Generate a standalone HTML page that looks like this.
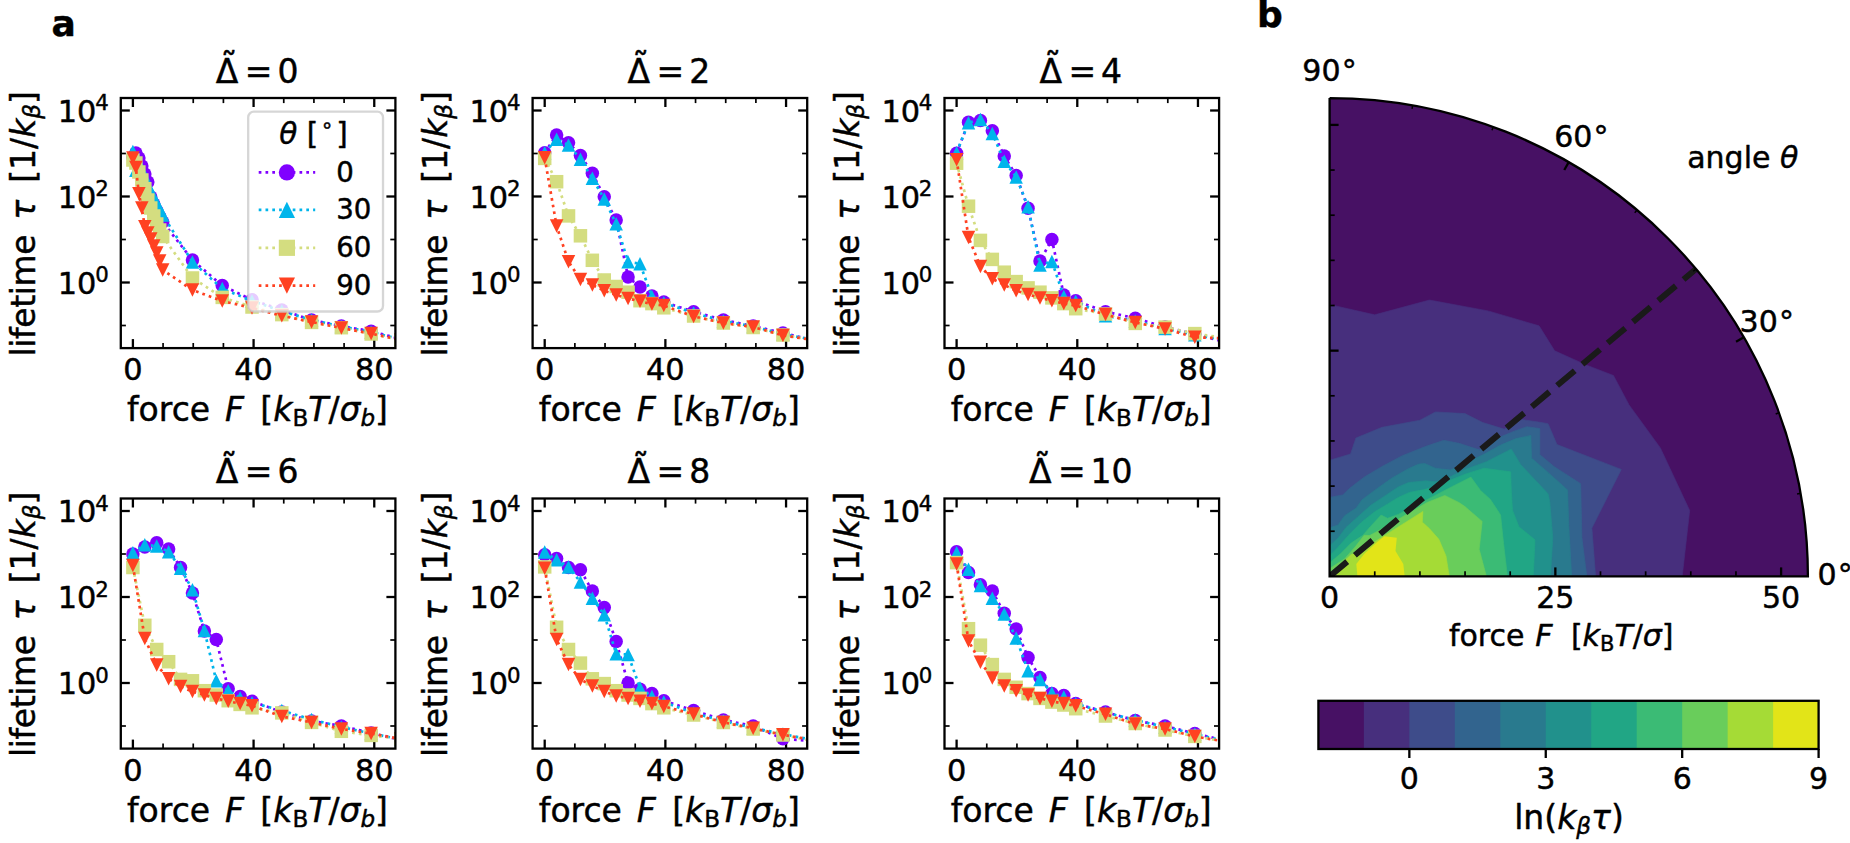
<!DOCTYPE html>
<html lang="en"><head><meta charset="utf-8"><title>Catch bond lifetime figure</title>
<style>html,body{margin:0;padding:0;background:#fff}svg{display:block}text{font-family:'DejaVu Sans','Liberation Sans',sans-serif;fill:#000;stroke:#000;stroke-width:0.45px;stroke-linejoin:round}</style>
</head><body>
<svg width="1850" height="843" viewBox="0 0 1850 843">
<rect width="1850" height="843" fill="#fff"/>
<g>
<clipPath id="c0"><rect x="120.8" y="98" width="274.6" height="250.1"/></clipPath>
<line x1="132.9" y1="348.1" x2="132.9" y2="339.1" stroke="#000" stroke-width="2.3"/>
<line x1="132.9" y1="98" x2="132.9" y2="107" stroke="#000" stroke-width="2.3"/>
<line x1="163.07" y1="348.1" x2="163.07" y2="343" stroke="#000" stroke-width="1.7"/>
<line x1="163.07" y1="98" x2="163.07" y2="103.1" stroke="#000" stroke-width="1.7"/>
<line x1="193.24" y1="348.1" x2="193.24" y2="343" stroke="#000" stroke-width="1.7"/>
<line x1="193.24" y1="98" x2="193.24" y2="103.1" stroke="#000" stroke-width="1.7"/>
<line x1="223.41" y1="348.1" x2="223.41" y2="343" stroke="#000" stroke-width="1.7"/>
<line x1="223.41" y1="98" x2="223.41" y2="103.1" stroke="#000" stroke-width="1.7"/>
<line x1="253.58" y1="348.1" x2="253.58" y2="339.1" stroke="#000" stroke-width="2.3"/>
<line x1="253.58" y1="98" x2="253.58" y2="107" stroke="#000" stroke-width="2.3"/>
<line x1="283.75" y1="348.1" x2="283.75" y2="343" stroke="#000" stroke-width="1.7"/>
<line x1="283.75" y1="98" x2="283.75" y2="103.1" stroke="#000" stroke-width="1.7"/>
<line x1="313.92" y1="348.1" x2="313.92" y2="343" stroke="#000" stroke-width="1.7"/>
<line x1="313.92" y1="98" x2="313.92" y2="103.1" stroke="#000" stroke-width="1.7"/>
<line x1="344.09" y1="348.1" x2="344.09" y2="343" stroke="#000" stroke-width="1.7"/>
<line x1="344.09" y1="98" x2="344.09" y2="103.1" stroke="#000" stroke-width="1.7"/>
<line x1="374.26" y1="348.1" x2="374.26" y2="339.1" stroke="#000" stroke-width="2.3"/>
<line x1="374.26" y1="98" x2="374.26" y2="107" stroke="#000" stroke-width="2.3"/>
<line x1="120.8" y1="325.5" x2="125.9" y2="325.5" stroke="#000" stroke-width="1.7"/>
<line x1="395.4" y1="325.5" x2="390.3" y2="325.5" stroke="#000" stroke-width="1.7"/>
<line x1="120.8" y1="282.5" x2="129.8" y2="282.5" stroke="#000" stroke-width="2.3"/>
<line x1="395.4" y1="282.5" x2="386.4" y2="282.5" stroke="#000" stroke-width="2.3"/>
<line x1="120.8" y1="239.5" x2="125.9" y2="239.5" stroke="#000" stroke-width="1.7"/>
<line x1="395.4" y1="239.5" x2="390.3" y2="239.5" stroke="#000" stroke-width="1.7"/>
<line x1="120.8" y1="196.5" x2="129.8" y2="196.5" stroke="#000" stroke-width="2.3"/>
<line x1="395.4" y1="196.5" x2="386.4" y2="196.5" stroke="#000" stroke-width="2.3"/>
<line x1="120.8" y1="153.5" x2="125.9" y2="153.5" stroke="#000" stroke-width="1.7"/>
<line x1="395.4" y1="153.5" x2="390.3" y2="153.5" stroke="#000" stroke-width="1.7"/>
<line x1="120.8" y1="110.5" x2="129.8" y2="110.5" stroke="#000" stroke-width="2.3"/>
<line x1="395.4" y1="110.5" x2="386.4" y2="110.5" stroke="#000" stroke-width="2.3"/>
<g clip-path="url(#c0)">
<polyline points="132.9,157 135.88,153 138.86,158 141.83,166 144.81,174 147.79,182 150.77,197 153.75,204 156.72,210.5 159.7,216.5 162.68,222 192.46,260 222.24,285.6 252.02,299.8 281.8,310 311.58,320 341.36,326 371.14,331.3 400.92,339" fill="none" stroke="#8000ff" stroke-width="2.7" stroke-dasharray="2.7 4.1"/>
<circle cx="132.9" cy="157" r="6.75" fill="#8000ff"/><circle cx="135.88" cy="153" r="6.75" fill="#8000ff"/><circle cx="138.86" cy="158" r="6.75" fill="#8000ff"/><circle cx="141.83" cy="166" r="6.75" fill="#8000ff"/><circle cx="144.81" cy="174" r="6.75" fill="#8000ff"/><circle cx="147.79" cy="182" r="6.75" fill="#8000ff"/><circle cx="150.77" cy="197" r="6.75" fill="#8000ff"/><circle cx="153.75" cy="204" r="6.75" fill="#8000ff"/><circle cx="156.72" cy="210.5" r="6.75" fill="#8000ff"/><circle cx="159.7" cy="216.5" r="6.75" fill="#8000ff"/><circle cx="162.68" cy="222" r="6.75" fill="#8000ff"/><circle cx="192.46" cy="260" r="6.75" fill="#8000ff"/><circle cx="222.24" cy="285.6" r="6.75" fill="#8000ff"/><circle cx="252.02" cy="299.8" r="6.75" fill="#8000ff"/><circle cx="281.8" cy="310" r="6.75" fill="#8000ff"/><circle cx="311.58" cy="320" r="6.75" fill="#8000ff"/><circle cx="341.36" cy="326" r="6.75" fill="#8000ff"/><circle cx="371.14" cy="331.3" r="6.75" fill="#8000ff"/><circle cx="400.92" cy="339" r="6.75" fill="#8000ff"/>
<polyline points="132.9,151.5 135.88,170.3 138.86,163 141.83,170 144.81,177 147.79,185 150.77,191.4 153.75,197.3 156.72,203.2 159.7,209.1 162.68,215 192.46,262 222.24,288.6 252.02,301 281.8,311 311.58,320 341.36,326.5 371.14,332 400.92,339.5" fill="none" stroke="#00b5eb" stroke-width="2.7" stroke-dasharray="2.7 4.1"/>
<path d="M132.9 144.75L139.65 158.25L126.15 158.25Z" fill="#00b5eb"/><path d="M135.88 163.55L142.63 177.05L129.13 177.05Z" fill="#00b5eb"/><path d="M138.86 156.25L145.61 169.75L132.11 169.75Z" fill="#00b5eb"/><path d="M141.83 163.25L148.58 176.75L135.08 176.75Z" fill="#00b5eb"/><path d="M144.81 170.25L151.56 183.75L138.06 183.75Z" fill="#00b5eb"/><path d="M147.79 178.25L154.54 191.75L141.04 191.75Z" fill="#00b5eb"/><path d="M150.77 184.65L157.52 198.15L144.02 198.15Z" fill="#00b5eb"/><path d="M153.75 190.55L160.5 204.05L147 204.05Z" fill="#00b5eb"/><path d="M156.72 196.45L163.47 209.95L149.97 209.95Z" fill="#00b5eb"/><path d="M159.7 202.35L166.45 215.85L152.95 215.85Z" fill="#00b5eb"/><path d="M162.68 208.25L169.43 221.75L155.93 221.75Z" fill="#00b5eb"/><path d="M192.46 255.25L199.21 268.75L185.71 268.75Z" fill="#00b5eb"/><path d="M222.24 281.85L228.99 295.35L215.49 295.35Z" fill="#00b5eb"/><path d="M252.02 294.25L258.77 307.75L245.27 307.75Z" fill="#00b5eb"/><path d="M281.8 304.25L288.55 317.75L275.05 317.75Z" fill="#00b5eb"/><path d="M311.58 313.25L318.33 326.75L304.83 326.75Z" fill="#00b5eb"/><path d="M341.36 319.75L348.11 333.25L334.61 333.25Z" fill="#00b5eb"/><path d="M371.14 325.25L377.89 338.75L364.39 338.75Z" fill="#00b5eb"/><path d="M400.92 332.75L407.67 346.25L394.17 346.25Z" fill="#00b5eb"/>
<polyline points="132.9,160 135.88,163 138.86,172 141.83,180 144.81,188.75 147.79,200 150.77,208 153.75,216 156.72,224 159.7,230 162.68,236.5 192.46,278 222.24,297.4 252.02,307 281.8,314.6 311.58,322.4 341.36,327.7 371.14,334 400.92,340" fill="none" stroke="#d4dd80" stroke-width="2.7" stroke-dasharray="2.7 4.1"/>
<rect x="126.15" y="153.25" width="13.5" height="13.5" fill="#d4dd80"/><rect x="129.13" y="156.25" width="13.5" height="13.5" fill="#d4dd80"/><rect x="132.11" y="165.25" width="13.5" height="13.5" fill="#d4dd80"/><rect x="135.08" y="173.25" width="13.5" height="13.5" fill="#d4dd80"/><rect x="138.06" y="182" width="13.5" height="13.5" fill="#d4dd80"/><rect x="141.04" y="193.25" width="13.5" height="13.5" fill="#d4dd80"/><rect x="144.02" y="201.25" width="13.5" height="13.5" fill="#d4dd80"/><rect x="147" y="209.25" width="13.5" height="13.5" fill="#d4dd80"/><rect x="149.97" y="217.25" width="13.5" height="13.5" fill="#d4dd80"/><rect x="152.95" y="223.25" width="13.5" height="13.5" fill="#d4dd80"/><rect x="155.93" y="229.75" width="13.5" height="13.5" fill="#d4dd80"/><rect x="185.71" y="271.25" width="13.5" height="13.5" fill="#d4dd80"/><rect x="215.49" y="290.65" width="13.5" height="13.5" fill="#d4dd80"/><rect x="245.27" y="300.25" width="13.5" height="13.5" fill="#d4dd80"/><rect x="275.05" y="307.85" width="13.5" height="13.5" fill="#d4dd80"/><rect x="304.83" y="315.65" width="13.5" height="13.5" fill="#d4dd80"/><rect x="334.61" y="320.95" width="13.5" height="13.5" fill="#d4dd80"/><rect x="364.39" y="327.25" width="13.5" height="13.5" fill="#d4dd80"/><rect x="394.17" y="333.25" width="13.5" height="13.5" fill="#d4dd80"/>
<polyline points="132.9,158 135.88,167.6 138.86,193.8 141.83,208 144.81,226.8 147.79,233 150.77,239 153.75,246 156.72,253 159.7,261 162.68,270 192.46,290 222.24,301 252.02,308 281.8,315.8 311.58,322 341.36,328 371.14,333.6 400.92,340" fill="none" stroke="#ff4121" stroke-width="2.7" stroke-dasharray="2.7 4.1"/>
<path d="M132.9 164.75L139.65 151.25L126.15 151.25Z" fill="#ff4121"/><path d="M135.88 174.35L142.63 160.85L129.13 160.85Z" fill="#ff4121"/><path d="M138.86 200.55L145.61 187.05L132.11 187.05Z" fill="#ff4121"/><path d="M141.83 214.75L148.58 201.25L135.08 201.25Z" fill="#ff4121"/><path d="M144.81 233.55L151.56 220.05L138.06 220.05Z" fill="#ff4121"/><path d="M147.79 239.75L154.54 226.25L141.04 226.25Z" fill="#ff4121"/><path d="M150.77 245.75L157.52 232.25L144.02 232.25Z" fill="#ff4121"/><path d="M153.75 252.75L160.5 239.25L147 239.25Z" fill="#ff4121"/><path d="M156.72 259.75L163.47 246.25L149.97 246.25Z" fill="#ff4121"/><path d="M159.7 267.75L166.45 254.25L152.95 254.25Z" fill="#ff4121"/><path d="M162.68 276.75L169.43 263.25L155.93 263.25Z" fill="#ff4121"/><path d="M192.46 296.75L199.21 283.25L185.71 283.25Z" fill="#ff4121"/><path d="M222.24 307.75L228.99 294.25L215.49 294.25Z" fill="#ff4121"/><path d="M252.02 314.75L258.77 301.25L245.27 301.25Z" fill="#ff4121"/><path d="M281.8 322.55L288.55 309.05L275.05 309.05Z" fill="#ff4121"/><path d="M311.58 328.75L318.33 315.25L304.83 315.25Z" fill="#ff4121"/><path d="M341.36 334.75L348.11 321.25L334.61 321.25Z" fill="#ff4121"/><path d="M371.14 340.35L377.89 326.85L364.39 326.85Z" fill="#ff4121"/><path d="M400.92 346.75L407.67 333.25L394.17 333.25Z" fill="#ff4121"/>
</g>
<rect x="248.2" y="111.7" width="134.8" height="199.8" rx="5.6" ry="5.6" fill="#fff" fill-opacity="0.8" stroke="#ccc" stroke-opacity="0.8" stroke-width="2.3"/>
<line x1="258.7" y1="172.4" x2="315.2" y2="172.4" stroke="#8000ff" stroke-width="2.7" stroke-dasharray="2.7 4.1"/>
<circle cx="286.9" cy="172.4" r="8.1" fill="#8000ff"/>
<text x="336.3" y="181.9" font-size="27.6">0</text>
<line x1="258.7" y1="209.9" x2="315.2" y2="209.9" stroke="#00b5eb" stroke-width="2.7" stroke-dasharray="2.7 4.1"/>
<path d="M286.9 201.8L295 218L278.8 218Z" fill="#00b5eb"/>
<text x="336.3" y="219.4" font-size="27.6">30</text>
<line x1="258.7" y1="247.8" x2="315.2" y2="247.8" stroke="#d4dd80" stroke-width="2.7" stroke-dasharray="2.7 4.1"/>
<rect x="278.8" y="239.7" width="16.2" height="16.2" fill="#d4dd80"/>
<text x="336.3" y="257.3" font-size="27.6">60</text>
<line x1="258.7" y1="285.6" x2="315.2" y2="285.6" stroke="#ff4121" stroke-width="2.7" stroke-dasharray="2.7 4.1"/>
<path d="M286.9 293.7L295 277.5L278.8 277.5Z" fill="#ff4121"/>
<text x="336.3" y="295.1" font-size="27.6">90</text>
<text x="279.2" y="143.6" font-size="29.5"><tspan font-style="italic">θ</tspan> [<tspan font-size="20.65" dy="-11.2" dx="2.6">∘</tspan><tspan dy="11.2" dx="2.6">]</tspan></text>
<rect x="120.8" y="98" width="274.6" height="250.1" fill="none" stroke="#000" stroke-width="2.3"/>
<text x="132.9" y="380.1" font-size="30.4" text-anchor="middle">0</text>
<text x="253.58" y="380.1" font-size="30.4" text-anchor="middle">40</text>
<text x="374.26" y="380.1" font-size="30.4" text-anchor="middle">80</text>
<text x="57.7" y="293.9" font-size="30.4">10<tspan font-size="21.28" dy="-11.7" dx="-1.2">0</tspan></text>
<text x="57.7" y="207.9" font-size="30.4">10<tspan font-size="21.28" dy="-11.7" dx="-1.2">2</tspan></text>
<text x="57.7" y="121.9" font-size="30.4">10<tspan font-size="21.28" dy="-11.7" dx="-1.2">4</tspan></text>
<text x="215.7" y="82.8" font-size="33">Δ<tspan x="244.7">=</tspan><tspan x="277.4">0</tspan></text>
<text x="220.8" y="77.1" font-size="33">˜</text>
<text x="127" y="421" font-size="33">force <tspan font-style="italic" dx="4.4">F</tspan><tspan dx="5.9"> [</tspan><tspan font-style="italic">k</tspan><tspan font-size="23.1" dy="5.4">B</tspan><tspan font-style="italic" dy="-5.4">T</tspan>/<tspan font-style="italic">σ</tspan><tspan font-style="italic" font-size="23.1" dy="5.4">b</tspan><tspan dy="-5.4">]</tspan></text>
<text x="35" y="356.6" font-size="33" transform="rotate(-90 35 356.6)"><tspan letter-spacing="-0.38">lifetime</tspan> <tspan font-style="italic" dx="4.5">τ</tspan><tspan dx="6.6"> [1/</tspan><tspan font-style="italic">k</tspan><tspan font-style="italic" font-size="23.1" dy="5.4">β</tspan><tspan dy="-5.4">]</tspan></text>
</g>
<g>
<clipPath id="c1"><rect x="532.6" y="98" width="274.6" height="250.1"/></clipPath>
<line x1="544.7" y1="348.1" x2="544.7" y2="339.1" stroke="#000" stroke-width="2.3"/>
<line x1="544.7" y1="98" x2="544.7" y2="107" stroke="#000" stroke-width="2.3"/>
<line x1="574.87" y1="348.1" x2="574.87" y2="343" stroke="#000" stroke-width="1.7"/>
<line x1="574.87" y1="98" x2="574.87" y2="103.1" stroke="#000" stroke-width="1.7"/>
<line x1="605.04" y1="348.1" x2="605.04" y2="343" stroke="#000" stroke-width="1.7"/>
<line x1="605.04" y1="98" x2="605.04" y2="103.1" stroke="#000" stroke-width="1.7"/>
<line x1="635.21" y1="348.1" x2="635.21" y2="343" stroke="#000" stroke-width="1.7"/>
<line x1="635.21" y1="98" x2="635.21" y2="103.1" stroke="#000" stroke-width="1.7"/>
<line x1="665.38" y1="348.1" x2="665.38" y2="339.1" stroke="#000" stroke-width="2.3"/>
<line x1="665.38" y1="98" x2="665.38" y2="107" stroke="#000" stroke-width="2.3"/>
<line x1="695.55" y1="348.1" x2="695.55" y2="343" stroke="#000" stroke-width="1.7"/>
<line x1="695.55" y1="98" x2="695.55" y2="103.1" stroke="#000" stroke-width="1.7"/>
<line x1="725.72" y1="348.1" x2="725.72" y2="343" stroke="#000" stroke-width="1.7"/>
<line x1="725.72" y1="98" x2="725.72" y2="103.1" stroke="#000" stroke-width="1.7"/>
<line x1="755.89" y1="348.1" x2="755.89" y2="343" stroke="#000" stroke-width="1.7"/>
<line x1="755.89" y1="98" x2="755.89" y2="103.1" stroke="#000" stroke-width="1.7"/>
<line x1="786.06" y1="348.1" x2="786.06" y2="339.1" stroke="#000" stroke-width="2.3"/>
<line x1="786.06" y1="98" x2="786.06" y2="107" stroke="#000" stroke-width="2.3"/>
<line x1="532.6" y1="325.5" x2="537.7" y2="325.5" stroke="#000" stroke-width="1.7"/>
<line x1="807.2" y1="325.5" x2="802.1" y2="325.5" stroke="#000" stroke-width="1.7"/>
<line x1="532.6" y1="282.5" x2="541.6" y2="282.5" stroke="#000" stroke-width="2.3"/>
<line x1="807.2" y1="282.5" x2="798.2" y2="282.5" stroke="#000" stroke-width="2.3"/>
<line x1="532.6" y1="239.5" x2="537.7" y2="239.5" stroke="#000" stroke-width="1.7"/>
<line x1="807.2" y1="239.5" x2="802.1" y2="239.5" stroke="#000" stroke-width="1.7"/>
<line x1="532.6" y1="196.5" x2="541.6" y2="196.5" stroke="#000" stroke-width="2.3"/>
<line x1="807.2" y1="196.5" x2="798.2" y2="196.5" stroke="#000" stroke-width="2.3"/>
<line x1="532.6" y1="153.5" x2="537.7" y2="153.5" stroke="#000" stroke-width="1.7"/>
<line x1="807.2" y1="153.5" x2="802.1" y2="153.5" stroke="#000" stroke-width="1.7"/>
<line x1="532.6" y1="110.5" x2="541.6" y2="110.5" stroke="#000" stroke-width="2.3"/>
<line x1="807.2" y1="110.5" x2="798.2" y2="110.5" stroke="#000" stroke-width="2.3"/>
<g clip-path="url(#c1)">
<polyline points="544.7,152.7 556.61,135 568.52,142.7 580.44,155.5 592.35,173.2 604.26,196.8 616.17,220.1 628.08,277 640,287 651.91,295.9 663.82,302 693.6,311.7 723.38,320 753.16,326 782.94,333 812.72,340" fill="none" stroke="#8000ff" stroke-width="2.7" stroke-dasharray="2.7 4.1"/>
<circle cx="544.7" cy="152.7" r="6.75" fill="#8000ff"/><circle cx="556.61" cy="135" r="6.75" fill="#8000ff"/><circle cx="568.52" cy="142.7" r="6.75" fill="#8000ff"/><circle cx="580.44" cy="155.5" r="6.75" fill="#8000ff"/><circle cx="592.35" cy="173.2" r="6.75" fill="#8000ff"/><circle cx="604.26" cy="196.8" r="6.75" fill="#8000ff"/><circle cx="616.17" cy="220.1" r="6.75" fill="#8000ff"/><circle cx="628.08" cy="277" r="6.75" fill="#8000ff"/><circle cx="640" cy="287" r="6.75" fill="#8000ff"/><circle cx="651.91" cy="295.9" r="6.75" fill="#8000ff"/><circle cx="663.82" cy="302" r="6.75" fill="#8000ff"/><circle cx="693.6" cy="311.7" r="6.75" fill="#8000ff"/><circle cx="723.38" cy="320" r="6.75" fill="#8000ff"/><circle cx="753.16" cy="326" r="6.75" fill="#8000ff"/><circle cx="782.94" cy="333" r="6.75" fill="#8000ff"/><circle cx="812.72" cy="340" r="6.75" fill="#8000ff"/>
<polyline points="544.7,152.7 556.61,139.3 568.52,145 580.44,159.2 592.35,178.3 604.26,199 616.17,223.8 628.08,261.7 640,263.7 651.91,296.4 663.82,302.7 693.6,313 723.38,321 753.16,326.5 782.94,334 812.72,339.6" fill="none" stroke="#00b5eb" stroke-width="2.7" stroke-dasharray="2.7 4.1"/>
<path d="M544.7 145.95L551.45 159.45L537.95 159.45Z" fill="#00b5eb"/><path d="M556.61 132.55L563.36 146.05L549.86 146.05Z" fill="#00b5eb"/><path d="M568.52 138.25L575.27 151.75L561.77 151.75Z" fill="#00b5eb"/><path d="M580.44 152.45L587.19 165.95L573.69 165.95Z" fill="#00b5eb"/><path d="M592.35 171.55L599.1 185.05L585.6 185.05Z" fill="#00b5eb"/><path d="M604.26 192.25L611.01 205.75L597.51 205.75Z" fill="#00b5eb"/><path d="M616.17 217.05L622.92 230.55L609.42 230.55Z" fill="#00b5eb"/><path d="M628.08 254.95L634.83 268.45L621.33 268.45Z" fill="#00b5eb"/><path d="M640 256.95L646.75 270.45L633.25 270.45Z" fill="#00b5eb"/><path d="M651.91 289.65L658.66 303.15L645.16 303.15Z" fill="#00b5eb"/><path d="M663.82 295.95L670.57 309.45L657.07 309.45Z" fill="#00b5eb"/><path d="M693.6 306.25L700.35 319.75L686.85 319.75Z" fill="#00b5eb"/><path d="M723.38 314.25L730.13 327.75L716.63 327.75Z" fill="#00b5eb"/><path d="M753.16 319.75L759.91 333.25L746.41 333.25Z" fill="#00b5eb"/><path d="M782.94 327.25L789.69 340.75L776.19 340.75Z" fill="#00b5eb"/><path d="M812.72 332.85L819.47 346.35L805.97 346.35Z" fill="#00b5eb"/>
<polyline points="544.7,158.4 556.61,181.7 568.52,215.9 580.44,235.8 592.35,260.3 604.26,280 616.17,286.5 628.08,292.2 640,300.7 651.91,303.6 663.82,307.8 693.6,316 723.38,323 753.16,327.5 782.94,335 812.72,340" fill="none" stroke="#d4dd80" stroke-width="2.7" stroke-dasharray="2.7 4.1"/>
<rect x="537.95" y="151.65" width="13.5" height="13.5" fill="#d4dd80"/><rect x="549.86" y="174.95" width="13.5" height="13.5" fill="#d4dd80"/><rect x="561.77" y="209.15" width="13.5" height="13.5" fill="#d4dd80"/><rect x="573.69" y="229.05" width="13.5" height="13.5" fill="#d4dd80"/><rect x="585.6" y="253.55" width="13.5" height="13.5" fill="#d4dd80"/><rect x="597.51" y="273.25" width="13.5" height="13.5" fill="#d4dd80"/><rect x="609.42" y="279.75" width="13.5" height="13.5" fill="#d4dd80"/><rect x="621.33" y="285.45" width="13.5" height="13.5" fill="#d4dd80"/><rect x="633.25" y="293.95" width="13.5" height="13.5" fill="#d4dd80"/><rect x="645.16" y="296.85" width="13.5" height="13.5" fill="#d4dd80"/><rect x="657.07" y="301.05" width="13.5" height="13.5" fill="#d4dd80"/><rect x="686.85" y="309.25" width="13.5" height="13.5" fill="#d4dd80"/><rect x="716.63" y="316.25" width="13.5" height="13.5" fill="#d4dd80"/><rect x="746.41" y="320.75" width="13.5" height="13.5" fill="#d4dd80"/><rect x="776.19" y="328.25" width="13.5" height="13.5" fill="#d4dd80"/><rect x="805.97" y="333.25" width="13.5" height="13.5" fill="#d4dd80"/>
<polyline points="544.7,157.8 556.61,226.1 568.52,261.7 580.44,279.4 592.35,285 604.26,290.7 616.17,295 628.08,298.4 640,301.3 651.91,304.1 663.82,305.6 693.6,316.4 723.38,323 753.16,327 782.94,335.4 812.72,340" fill="none" stroke="#ff4121" stroke-width="2.7" stroke-dasharray="2.7 4.1"/>
<path d="M544.7 164.55L551.45 151.05L537.95 151.05Z" fill="#ff4121"/><path d="M556.61 232.85L563.36 219.35L549.86 219.35Z" fill="#ff4121"/><path d="M568.52 268.45L575.27 254.95L561.77 254.95Z" fill="#ff4121"/><path d="M580.44 286.15L587.19 272.65L573.69 272.65Z" fill="#ff4121"/><path d="M592.35 291.75L599.1 278.25L585.6 278.25Z" fill="#ff4121"/><path d="M604.26 297.45L611.01 283.95L597.51 283.95Z" fill="#ff4121"/><path d="M616.17 301.75L622.92 288.25L609.42 288.25Z" fill="#ff4121"/><path d="M628.08 305.15L634.83 291.65L621.33 291.65Z" fill="#ff4121"/><path d="M640 308.05L646.75 294.55L633.25 294.55Z" fill="#ff4121"/><path d="M651.91 310.85L658.66 297.35L645.16 297.35Z" fill="#ff4121"/><path d="M663.82 312.35L670.57 298.85L657.07 298.85Z" fill="#ff4121"/><path d="M693.6 323.15L700.35 309.65L686.85 309.65Z" fill="#ff4121"/><path d="M723.38 329.75L730.13 316.25L716.63 316.25Z" fill="#ff4121"/><path d="M753.16 333.75L759.91 320.25L746.41 320.25Z" fill="#ff4121"/><path d="M782.94 342.15L789.69 328.65L776.19 328.65Z" fill="#ff4121"/><path d="M812.72 346.75L819.47 333.25L805.97 333.25Z" fill="#ff4121"/>
</g>
<rect x="532.6" y="98" width="274.6" height="250.1" fill="none" stroke="#000" stroke-width="2.3"/>
<text x="544.7" y="380.1" font-size="30.4" text-anchor="middle">0</text>
<text x="665.38" y="380.1" font-size="30.4" text-anchor="middle">40</text>
<text x="786.06" y="380.1" font-size="30.4" text-anchor="middle">80</text>
<text x="469.5" y="293.9" font-size="30.4">10<tspan font-size="21.28" dy="-11.7" dx="-1.2">0</tspan></text>
<text x="469.5" y="207.9" font-size="30.4">10<tspan font-size="21.28" dy="-11.7" dx="-1.2">2</tspan></text>
<text x="469.5" y="121.9" font-size="30.4">10<tspan font-size="21.28" dy="-11.7" dx="-1.2">4</tspan></text>
<text x="627.5" y="82.8" font-size="33">Δ<tspan x="656.5">=</tspan><tspan x="689.2">2</tspan></text>
<text x="632.6" y="77.1" font-size="33">˜</text>
<text x="538.8" y="421" font-size="33">force <tspan font-style="italic" dx="4.4">F</tspan><tspan dx="5.9"> [</tspan><tspan font-style="italic">k</tspan><tspan font-size="23.1" dy="5.4">B</tspan><tspan font-style="italic" dy="-5.4">T</tspan>/<tspan font-style="italic">σ</tspan><tspan font-style="italic" font-size="23.1" dy="5.4">b</tspan><tspan dy="-5.4">]</tspan></text>
<text x="446.8" y="356.6" font-size="33" transform="rotate(-90 446.8 356.6)"><tspan letter-spacing="-0.38">lifetime</tspan> <tspan font-style="italic" dx="4.5">τ</tspan><tspan dx="6.6"> [1/</tspan><tspan font-style="italic">k</tspan><tspan font-style="italic" font-size="23.1" dy="5.4">β</tspan><tspan dy="-5.4">]</tspan></text>
</g>
<g>
<clipPath id="c2"><rect x="944.5" y="98" width="274.6" height="250.1"/></clipPath>
<line x1="956.6" y1="348.1" x2="956.6" y2="339.1" stroke="#000" stroke-width="2.3"/>
<line x1="956.6" y1="98" x2="956.6" y2="107" stroke="#000" stroke-width="2.3"/>
<line x1="986.77" y1="348.1" x2="986.77" y2="343" stroke="#000" stroke-width="1.7"/>
<line x1="986.77" y1="98" x2="986.77" y2="103.1" stroke="#000" stroke-width="1.7"/>
<line x1="1016.94" y1="348.1" x2="1016.94" y2="343" stroke="#000" stroke-width="1.7"/>
<line x1="1016.94" y1="98" x2="1016.94" y2="103.1" stroke="#000" stroke-width="1.7"/>
<line x1="1047.11" y1="348.1" x2="1047.11" y2="343" stroke="#000" stroke-width="1.7"/>
<line x1="1047.11" y1="98" x2="1047.11" y2="103.1" stroke="#000" stroke-width="1.7"/>
<line x1="1077.28" y1="348.1" x2="1077.28" y2="339.1" stroke="#000" stroke-width="2.3"/>
<line x1="1077.28" y1="98" x2="1077.28" y2="107" stroke="#000" stroke-width="2.3"/>
<line x1="1107.45" y1="348.1" x2="1107.45" y2="343" stroke="#000" stroke-width="1.7"/>
<line x1="1107.45" y1="98" x2="1107.45" y2="103.1" stroke="#000" stroke-width="1.7"/>
<line x1="1137.62" y1="348.1" x2="1137.62" y2="343" stroke="#000" stroke-width="1.7"/>
<line x1="1137.62" y1="98" x2="1137.62" y2="103.1" stroke="#000" stroke-width="1.7"/>
<line x1="1167.79" y1="348.1" x2="1167.79" y2="343" stroke="#000" stroke-width="1.7"/>
<line x1="1167.79" y1="98" x2="1167.79" y2="103.1" stroke="#000" stroke-width="1.7"/>
<line x1="1197.96" y1="348.1" x2="1197.96" y2="339.1" stroke="#000" stroke-width="2.3"/>
<line x1="1197.96" y1="98" x2="1197.96" y2="107" stroke="#000" stroke-width="2.3"/>
<line x1="944.5" y1="325.5" x2="949.6" y2="325.5" stroke="#000" stroke-width="1.7"/>
<line x1="1219.1" y1="325.5" x2="1214" y2="325.5" stroke="#000" stroke-width="1.7"/>
<line x1="944.5" y1="282.5" x2="953.5" y2="282.5" stroke="#000" stroke-width="2.3"/>
<line x1="1219.1" y1="282.5" x2="1210.1" y2="282.5" stroke="#000" stroke-width="2.3"/>
<line x1="944.5" y1="239.5" x2="949.6" y2="239.5" stroke="#000" stroke-width="1.7"/>
<line x1="1219.1" y1="239.5" x2="1214" y2="239.5" stroke="#000" stroke-width="1.7"/>
<line x1="944.5" y1="196.5" x2="953.5" y2="196.5" stroke="#000" stroke-width="2.3"/>
<line x1="1219.1" y1="196.5" x2="1210.1" y2="196.5" stroke="#000" stroke-width="2.3"/>
<line x1="944.5" y1="153.5" x2="949.6" y2="153.5" stroke="#000" stroke-width="1.7"/>
<line x1="1219.1" y1="153.5" x2="1214" y2="153.5" stroke="#000" stroke-width="1.7"/>
<line x1="944.5" y1="110.5" x2="953.5" y2="110.5" stroke="#000" stroke-width="2.3"/>
<line x1="1219.1" y1="110.5" x2="1210.1" y2="110.5" stroke="#000" stroke-width="2.3"/>
<g clip-path="url(#c2)">
<polyline points="956.6,153.2 968.51,122.2 980.42,120.5 992.34,130.7 1004.25,156.1 1016.16,175.4 1028.07,208.2 1039.98,260.9 1051.9,239.5 1063.81,295 1075.72,300.7 1105.5,311.7 1135.28,318.2 1165.06,327 1194.84,334 1224.62,342" fill="none" stroke="#8000ff" stroke-width="2.7" stroke-dasharray="2.7 4.1"/>
<circle cx="956.6" cy="153.2" r="6.75" fill="#8000ff"/><circle cx="968.51" cy="122.2" r="6.75" fill="#8000ff"/><circle cx="980.42" cy="120.5" r="6.75" fill="#8000ff"/><circle cx="992.34" cy="130.7" r="6.75" fill="#8000ff"/><circle cx="1004.25" cy="156.1" r="6.75" fill="#8000ff"/><circle cx="1016.16" cy="175.4" r="6.75" fill="#8000ff"/><circle cx="1028.07" cy="208.2" r="6.75" fill="#8000ff"/><circle cx="1039.98" cy="260.9" r="6.75" fill="#8000ff"/><circle cx="1051.9" cy="239.5" r="6.75" fill="#8000ff"/><circle cx="1063.81" cy="295" r="6.75" fill="#8000ff"/><circle cx="1075.72" cy="300.7" r="6.75" fill="#8000ff"/><circle cx="1105.5" cy="311.7" r="6.75" fill="#8000ff"/><circle cx="1135.28" cy="318.2" r="6.75" fill="#8000ff"/><circle cx="1165.06" cy="327" r="6.75" fill="#8000ff"/><circle cx="1194.84" cy="334" r="6.75" fill="#8000ff"/><circle cx="1224.62" cy="342" r="6.75" fill="#8000ff"/>
<polyline points="956.6,152.7 968.51,122.8 980.42,119.4 992.34,133.6 1004.25,161.2 1016.16,176.9 1028.07,206.8 1039.98,265.1 1051.9,261.4 1063.81,296.4 1075.72,301.3 1105.5,315.8 1135.28,321 1165.06,328.5 1194.84,334.8 1224.62,340" fill="none" stroke="#00b5eb" stroke-width="2.7" stroke-dasharray="2.7 4.1"/>
<path d="M956.6 145.95L963.35 159.45L949.85 159.45Z" fill="#00b5eb"/><path d="M968.51 116.05L975.26 129.55L961.76 129.55Z" fill="#00b5eb"/><path d="M980.42 112.65L987.17 126.15L973.67 126.15Z" fill="#00b5eb"/><path d="M992.34 126.85L999.09 140.35L985.59 140.35Z" fill="#00b5eb"/><path d="M1004.25 154.45L1011 167.95L997.5 167.95Z" fill="#00b5eb"/><path d="M1016.16 170.15L1022.91 183.65L1009.41 183.65Z" fill="#00b5eb"/><path d="M1028.07 200.05L1034.82 213.55L1021.32 213.55Z" fill="#00b5eb"/><path d="M1039.98 258.35L1046.73 271.85L1033.23 271.85Z" fill="#00b5eb"/><path d="M1051.9 254.65L1058.65 268.15L1045.15 268.15Z" fill="#00b5eb"/><path d="M1063.81 289.65L1070.56 303.15L1057.06 303.15Z" fill="#00b5eb"/><path d="M1075.72 294.55L1082.47 308.05L1068.97 308.05Z" fill="#00b5eb"/><path d="M1105.5 309.05L1112.25 322.55L1098.75 322.55Z" fill="#00b5eb"/><path d="M1135.28 314.25L1142.03 327.75L1128.53 327.75Z" fill="#00b5eb"/><path d="M1165.06 321.75L1171.81 335.25L1158.31 335.25Z" fill="#00b5eb"/><path d="M1194.84 328.05L1201.59 341.55L1188.09 341.55Z" fill="#00b5eb"/><path d="M1224.62 333.25L1231.37 346.75L1217.87 346.75Z" fill="#00b5eb"/>
<polyline points="956.6,163.2 968.51,206.2 980.42,240.4 992.34,259.4 1004.25,272.2 1016.16,281.6 1028.07,287.9 1039.98,292.2 1051.9,297.9 1063.81,303.6 1075.72,308.7 1105.5,314 1135.28,323.4 1165.06,327.1 1194.84,333.6 1224.62,338" fill="none" stroke="#d4dd80" stroke-width="2.7" stroke-dasharray="2.7 4.1"/>
<rect x="949.85" y="156.45" width="13.5" height="13.5" fill="#d4dd80"/><rect x="961.76" y="199.45" width="13.5" height="13.5" fill="#d4dd80"/><rect x="973.67" y="233.65" width="13.5" height="13.5" fill="#d4dd80"/><rect x="985.59" y="252.65" width="13.5" height="13.5" fill="#d4dd80"/><rect x="997.5" y="265.45" width="13.5" height="13.5" fill="#d4dd80"/><rect x="1009.41" y="274.85" width="13.5" height="13.5" fill="#d4dd80"/><rect x="1021.32" y="281.15" width="13.5" height="13.5" fill="#d4dd80"/><rect x="1033.23" y="285.45" width="13.5" height="13.5" fill="#d4dd80"/><rect x="1045.15" y="291.15" width="13.5" height="13.5" fill="#d4dd80"/><rect x="1057.06" y="296.85" width="13.5" height="13.5" fill="#d4dd80"/><rect x="1068.97" y="301.95" width="13.5" height="13.5" fill="#d4dd80"/><rect x="1098.75" y="307.25" width="13.5" height="13.5" fill="#d4dd80"/><rect x="1128.53" y="316.65" width="13.5" height="13.5" fill="#d4dd80"/><rect x="1158.31" y="320.35" width="13.5" height="13.5" fill="#d4dd80"/><rect x="1188.09" y="326.85" width="13.5" height="13.5" fill="#d4dd80"/><rect x="1217.87" y="331.25" width="13.5" height="13.5" fill="#d4dd80"/>
<polyline points="956.6,159.8 968.51,237.5 980.42,266.5 992.34,278.8 1004.25,285 1016.16,290.7 1028.07,294.4 1039.98,297.9 1051.9,300.7 1063.81,303.6 1075.72,305.6 1105.5,314.6 1135.28,322.4 1165.06,328.9 1194.84,337.2 1224.62,338.4" fill="none" stroke="#ff4121" stroke-width="2.7" stroke-dasharray="2.7 4.1"/>
<path d="M956.6 166.55L963.35 153.05L949.85 153.05Z" fill="#ff4121"/><path d="M968.51 244.25L975.26 230.75L961.76 230.75Z" fill="#ff4121"/><path d="M980.42 273.25L987.17 259.75L973.67 259.75Z" fill="#ff4121"/><path d="M992.34 285.55L999.09 272.05L985.59 272.05Z" fill="#ff4121"/><path d="M1004.25 291.75L1011 278.25L997.5 278.25Z" fill="#ff4121"/><path d="M1016.16 297.45L1022.91 283.95L1009.41 283.95Z" fill="#ff4121"/><path d="M1028.07 301.15L1034.82 287.65L1021.32 287.65Z" fill="#ff4121"/><path d="M1039.98 304.65L1046.73 291.15L1033.23 291.15Z" fill="#ff4121"/><path d="M1051.9 307.45L1058.65 293.95L1045.15 293.95Z" fill="#ff4121"/><path d="M1063.81 310.35L1070.56 296.85L1057.06 296.85Z" fill="#ff4121"/><path d="M1075.72 312.35L1082.47 298.85L1068.97 298.85Z" fill="#ff4121"/><path d="M1105.5 321.35L1112.25 307.85L1098.75 307.85Z" fill="#ff4121"/><path d="M1135.28 329.15L1142.03 315.65L1128.53 315.65Z" fill="#ff4121"/><path d="M1165.06 335.65L1171.81 322.15L1158.31 322.15Z" fill="#ff4121"/><path d="M1194.84 343.95L1201.59 330.45L1188.09 330.45Z" fill="#ff4121"/><path d="M1224.62 345.15L1231.37 331.65L1217.87 331.65Z" fill="#ff4121"/>
</g>
<rect x="944.5" y="98" width="274.6" height="250.1" fill="none" stroke="#000" stroke-width="2.3"/>
<text x="956.6" y="380.1" font-size="30.4" text-anchor="middle">0</text>
<text x="1077.28" y="380.1" font-size="30.4" text-anchor="middle">40</text>
<text x="1197.96" y="380.1" font-size="30.4" text-anchor="middle">80</text>
<text x="881.4" y="293.9" font-size="30.4">10<tspan font-size="21.28" dy="-11.7" dx="-1.2">0</tspan></text>
<text x="881.4" y="207.9" font-size="30.4">10<tspan font-size="21.28" dy="-11.7" dx="-1.2">2</tspan></text>
<text x="881.4" y="121.9" font-size="30.4">10<tspan font-size="21.28" dy="-11.7" dx="-1.2">4</tspan></text>
<text x="1039.4" y="82.8" font-size="33">Δ<tspan x="1068.4">=</tspan><tspan x="1101.1">4</tspan></text>
<text x="1044.5" y="77.1" font-size="33">˜</text>
<text x="950.7" y="421" font-size="33">force <tspan font-style="italic" dx="4.4">F</tspan><tspan dx="5.9"> [</tspan><tspan font-style="italic">k</tspan><tspan font-size="23.1" dy="5.4">B</tspan><tspan font-style="italic" dy="-5.4">T</tspan>/<tspan font-style="italic">σ</tspan><tspan font-style="italic" font-size="23.1" dy="5.4">b</tspan><tspan dy="-5.4">]</tspan></text>
<text x="858.7" y="356.6" font-size="33" transform="rotate(-90 858.7 356.6)"><tspan letter-spacing="-0.38">lifetime</tspan> <tspan font-style="italic" dx="4.5">τ</tspan><tspan dx="6.6"> [1/</tspan><tspan font-style="italic">k</tspan><tspan font-style="italic" font-size="23.1" dy="5.4">β</tspan><tspan dy="-5.4">]</tspan></text>
</g>
<g>
<clipPath id="c3"><rect x="120.8" y="498.5" width="274.6" height="250.1"/></clipPath>
<line x1="132.9" y1="748.6" x2="132.9" y2="739.6" stroke="#000" stroke-width="2.3"/>
<line x1="132.9" y1="498.5" x2="132.9" y2="507.5" stroke="#000" stroke-width="2.3"/>
<line x1="163.07" y1="748.6" x2="163.07" y2="743.5" stroke="#000" stroke-width="1.7"/>
<line x1="163.07" y1="498.5" x2="163.07" y2="503.6" stroke="#000" stroke-width="1.7"/>
<line x1="193.24" y1="748.6" x2="193.24" y2="743.5" stroke="#000" stroke-width="1.7"/>
<line x1="193.24" y1="498.5" x2="193.24" y2="503.6" stroke="#000" stroke-width="1.7"/>
<line x1="223.41" y1="748.6" x2="223.41" y2="743.5" stroke="#000" stroke-width="1.7"/>
<line x1="223.41" y1="498.5" x2="223.41" y2="503.6" stroke="#000" stroke-width="1.7"/>
<line x1="253.58" y1="748.6" x2="253.58" y2="739.6" stroke="#000" stroke-width="2.3"/>
<line x1="253.58" y1="498.5" x2="253.58" y2="507.5" stroke="#000" stroke-width="2.3"/>
<line x1="283.75" y1="748.6" x2="283.75" y2="743.5" stroke="#000" stroke-width="1.7"/>
<line x1="283.75" y1="498.5" x2="283.75" y2="503.6" stroke="#000" stroke-width="1.7"/>
<line x1="313.92" y1="748.6" x2="313.92" y2="743.5" stroke="#000" stroke-width="1.7"/>
<line x1="313.92" y1="498.5" x2="313.92" y2="503.6" stroke="#000" stroke-width="1.7"/>
<line x1="344.09" y1="748.6" x2="344.09" y2="743.5" stroke="#000" stroke-width="1.7"/>
<line x1="344.09" y1="498.5" x2="344.09" y2="503.6" stroke="#000" stroke-width="1.7"/>
<line x1="374.26" y1="748.6" x2="374.26" y2="739.6" stroke="#000" stroke-width="2.3"/>
<line x1="374.26" y1="498.5" x2="374.26" y2="507.5" stroke="#000" stroke-width="2.3"/>
<line x1="120.8" y1="726" x2="125.9" y2="726" stroke="#000" stroke-width="1.7"/>
<line x1="395.4" y1="726" x2="390.3" y2="726" stroke="#000" stroke-width="1.7"/>
<line x1="120.8" y1="683" x2="129.8" y2="683" stroke="#000" stroke-width="2.3"/>
<line x1="395.4" y1="683" x2="386.4" y2="683" stroke="#000" stroke-width="2.3"/>
<line x1="120.8" y1="640" x2="125.9" y2="640" stroke="#000" stroke-width="1.7"/>
<line x1="395.4" y1="640" x2="390.3" y2="640" stroke="#000" stroke-width="1.7"/>
<line x1="120.8" y1="597" x2="129.8" y2="597" stroke="#000" stroke-width="2.3"/>
<line x1="395.4" y1="597" x2="386.4" y2="597" stroke="#000" stroke-width="2.3"/>
<line x1="120.8" y1="554" x2="125.9" y2="554" stroke="#000" stroke-width="1.7"/>
<line x1="395.4" y1="554" x2="390.3" y2="554" stroke="#000" stroke-width="1.7"/>
<line x1="120.8" y1="511" x2="129.8" y2="511" stroke="#000" stroke-width="2.3"/>
<line x1="395.4" y1="511" x2="386.4" y2="511" stroke="#000" stroke-width="2.3"/>
<g clip-path="url(#c3)">
<polyline points="132.9,554.1 144.81,547 156.72,542.7 168.64,549 180.55,567.5 192.46,593.1 204.37,631 216.28,639.5 228.2,688.8 240.11,696.4 252.02,701.3 281.8,712 311.58,721 341.36,725.9 371.14,733 400.92,740" fill="none" stroke="#8000ff" stroke-width="2.7" stroke-dasharray="2.7 4.1"/>
<circle cx="132.9" cy="554.1" r="6.75" fill="#8000ff"/><circle cx="144.81" cy="547" r="6.75" fill="#8000ff"/><circle cx="156.72" cy="542.7" r="6.75" fill="#8000ff"/><circle cx="168.64" cy="549" r="6.75" fill="#8000ff"/><circle cx="180.55" cy="567.5" r="6.75" fill="#8000ff"/><circle cx="192.46" cy="593.1" r="6.75" fill="#8000ff"/><circle cx="204.37" cy="631" r="6.75" fill="#8000ff"/><circle cx="216.28" cy="639.5" r="6.75" fill="#8000ff"/><circle cx="228.2" cy="688.8" r="6.75" fill="#8000ff"/><circle cx="240.11" cy="696.4" r="6.75" fill="#8000ff"/><circle cx="252.02" cy="701.3" r="6.75" fill="#8000ff"/><circle cx="281.8" cy="712" r="6.75" fill="#8000ff"/><circle cx="311.58" cy="721" r="6.75" fill="#8000ff"/><circle cx="341.36" cy="725.9" r="6.75" fill="#8000ff"/><circle cx="371.14" cy="733" r="6.75" fill="#8000ff"/><circle cx="400.92" cy="740" r="6.75" fill="#8000ff"/>
<polyline points="132.9,552.7 144.81,544.7 156.72,546.1 168.64,551.8 180.55,568.3 192.46,589.7 204.37,630.4 216.28,680.8 228.2,690.7 240.11,697.9 252.02,702.7 281.8,710.5 311.58,719.5 341.36,727 371.14,733.5 400.92,739.5" fill="none" stroke="#00b5eb" stroke-width="2.7" stroke-dasharray="2.7 4.1"/>
<path d="M132.9 545.95L139.65 559.45L126.15 559.45Z" fill="#00b5eb"/><path d="M144.81 537.95L151.56 551.45L138.06 551.45Z" fill="#00b5eb"/><path d="M156.72 539.35L163.47 552.85L149.97 552.85Z" fill="#00b5eb"/><path d="M168.64 545.05L175.39 558.55L161.89 558.55Z" fill="#00b5eb"/><path d="M180.55 561.55L187.3 575.05L173.8 575.05Z" fill="#00b5eb"/><path d="M192.46 582.95L199.21 596.45L185.71 596.45Z" fill="#00b5eb"/><path d="M204.37 623.65L211.12 637.15L197.62 637.15Z" fill="#00b5eb"/><path d="M216.28 674.05L223.03 687.55L209.53 687.55Z" fill="#00b5eb"/><path d="M228.2 683.95L234.95 697.45L221.45 697.45Z" fill="#00b5eb"/><path d="M240.11 691.15L246.86 704.65L233.36 704.65Z" fill="#00b5eb"/><path d="M252.02 695.95L258.77 709.45L245.27 709.45Z" fill="#00b5eb"/><path d="M281.8 703.75L288.55 717.25L275.05 717.25Z" fill="#00b5eb"/><path d="M311.58 712.75L318.33 726.25L304.83 726.25Z" fill="#00b5eb"/><path d="M341.36 720.25L348.11 733.75L334.61 733.75Z" fill="#00b5eb"/><path d="M371.14 726.75L377.89 740.25L364.39 740.25Z" fill="#00b5eb"/><path d="M400.92 732.75L407.67 746.25L394.17 746.25Z" fill="#00b5eb"/>
<polyline points="132.9,567.5 144.81,625.3 156.72,649.5 168.64,661.7 180.55,679.4 192.46,680.8 204.37,690.7 216.28,695 228.2,700.7 240.11,704.4 252.02,707.8 281.8,712.9 311.58,722.4 341.36,731.3 371.14,735.4 400.92,739" fill="none" stroke="#d4dd80" stroke-width="2.7" stroke-dasharray="2.7 4.1"/>
<rect x="126.15" y="560.75" width="13.5" height="13.5" fill="#d4dd80"/><rect x="138.06" y="618.55" width="13.5" height="13.5" fill="#d4dd80"/><rect x="149.97" y="642.75" width="13.5" height="13.5" fill="#d4dd80"/><rect x="161.89" y="654.95" width="13.5" height="13.5" fill="#d4dd80"/><rect x="173.8" y="672.65" width="13.5" height="13.5" fill="#d4dd80"/><rect x="185.71" y="674.05" width="13.5" height="13.5" fill="#d4dd80"/><rect x="197.62" y="683.95" width="13.5" height="13.5" fill="#d4dd80"/><rect x="209.53" y="688.25" width="13.5" height="13.5" fill="#d4dd80"/><rect x="221.45" y="693.95" width="13.5" height="13.5" fill="#d4dd80"/><rect x="233.36" y="697.65" width="13.5" height="13.5" fill="#d4dd80"/><rect x="245.27" y="701.05" width="13.5" height="13.5" fill="#d4dd80"/><rect x="275.05" y="706.15" width="13.5" height="13.5" fill="#d4dd80"/><rect x="304.83" y="715.65" width="13.5" height="13.5" fill="#d4dd80"/><rect x="334.61" y="724.55" width="13.5" height="13.5" fill="#d4dd80"/><rect x="364.39" y="728.65" width="13.5" height="13.5" fill="#d4dd80"/><rect x="394.17" y="732.25" width="13.5" height="13.5" fill="#d4dd80"/>
<polyline points="132.9,565.5 144.81,638.6 156.72,665.1 168.64,678.8 180.55,686.5 192.46,691.6 204.37,695 216.28,698.4 228.2,701.3 240.11,703.6 252.02,705.8 281.8,716.4 311.58,722.4 341.36,728.9 371.14,733.6 400.92,739" fill="none" stroke="#ff4121" stroke-width="2.7" stroke-dasharray="2.7 4.1"/>
<path d="M132.9 572.25L139.65 558.75L126.15 558.75Z" fill="#ff4121"/><path d="M144.81 645.35L151.56 631.85L138.06 631.85Z" fill="#ff4121"/><path d="M156.72 671.85L163.47 658.35L149.97 658.35Z" fill="#ff4121"/><path d="M168.64 685.55L175.39 672.05L161.89 672.05Z" fill="#ff4121"/><path d="M180.55 693.25L187.3 679.75L173.8 679.75Z" fill="#ff4121"/><path d="M192.46 698.35L199.21 684.85L185.71 684.85Z" fill="#ff4121"/><path d="M204.37 701.75L211.12 688.25L197.62 688.25Z" fill="#ff4121"/><path d="M216.28 705.15L223.03 691.65L209.53 691.65Z" fill="#ff4121"/><path d="M228.2 708.05L234.95 694.55L221.45 694.55Z" fill="#ff4121"/><path d="M240.11 710.35L246.86 696.85L233.36 696.85Z" fill="#ff4121"/><path d="M252.02 712.55L258.77 699.05L245.27 699.05Z" fill="#ff4121"/><path d="M281.8 723.15L288.55 709.65L275.05 709.65Z" fill="#ff4121"/><path d="M311.58 729.15L318.33 715.65L304.83 715.65Z" fill="#ff4121"/><path d="M341.36 735.65L348.11 722.15L334.61 722.15Z" fill="#ff4121"/><path d="M371.14 740.35L377.89 726.85L364.39 726.85Z" fill="#ff4121"/><path d="M400.92 745.75L407.67 732.25L394.17 732.25Z" fill="#ff4121"/>
</g>
<rect x="120.8" y="498.5" width="274.6" height="250.1" fill="none" stroke="#000" stroke-width="2.3"/>
<text x="132.9" y="780.6" font-size="30.4" text-anchor="middle">0</text>
<text x="253.58" y="780.6" font-size="30.4" text-anchor="middle">40</text>
<text x="374.26" y="780.6" font-size="30.4" text-anchor="middle">80</text>
<text x="57.7" y="694.4" font-size="30.4">10<tspan font-size="21.28" dy="-11.7" dx="-1.2">0</tspan></text>
<text x="57.7" y="608.4" font-size="30.4">10<tspan font-size="21.28" dy="-11.7" dx="-1.2">2</tspan></text>
<text x="57.7" y="522.4" font-size="30.4">10<tspan font-size="21.28" dy="-11.7" dx="-1.2">4</tspan></text>
<text x="215.7" y="483.3" font-size="33">Δ<tspan x="244.7">=</tspan><tspan x="277.4">6</tspan></text>
<text x="220.8" y="477.6" font-size="33">˜</text>
<text x="127" y="821.5" font-size="33">force <tspan font-style="italic" dx="4.4">F</tspan><tspan dx="5.9"> [</tspan><tspan font-style="italic">k</tspan><tspan font-size="23.1" dy="5.4">B</tspan><tspan font-style="italic" dy="-5.4">T</tspan>/<tspan font-style="italic">σ</tspan><tspan font-style="italic" font-size="23.1" dy="5.4">b</tspan><tspan dy="-5.4">]</tspan></text>
<text x="35" y="757.1" font-size="33" transform="rotate(-90 35 757.1)"><tspan letter-spacing="-0.38">lifetime</tspan> <tspan font-style="italic" dx="4.5">τ</tspan><tspan dx="6.6"> [1/</tspan><tspan font-style="italic">k</tspan><tspan font-style="italic" font-size="23.1" dy="5.4">β</tspan><tspan dy="-5.4">]</tspan></text>
</g>
<g>
<clipPath id="c4"><rect x="532.6" y="498.5" width="274.6" height="250.1"/></clipPath>
<line x1="544.7" y1="748.6" x2="544.7" y2="739.6" stroke="#000" stroke-width="2.3"/>
<line x1="544.7" y1="498.5" x2="544.7" y2="507.5" stroke="#000" stroke-width="2.3"/>
<line x1="574.87" y1="748.6" x2="574.87" y2="743.5" stroke="#000" stroke-width="1.7"/>
<line x1="574.87" y1="498.5" x2="574.87" y2="503.6" stroke="#000" stroke-width="1.7"/>
<line x1="605.04" y1="748.6" x2="605.04" y2="743.5" stroke="#000" stroke-width="1.7"/>
<line x1="605.04" y1="498.5" x2="605.04" y2="503.6" stroke="#000" stroke-width="1.7"/>
<line x1="635.21" y1="748.6" x2="635.21" y2="743.5" stroke="#000" stroke-width="1.7"/>
<line x1="635.21" y1="498.5" x2="635.21" y2="503.6" stroke="#000" stroke-width="1.7"/>
<line x1="665.38" y1="748.6" x2="665.38" y2="739.6" stroke="#000" stroke-width="2.3"/>
<line x1="665.38" y1="498.5" x2="665.38" y2="507.5" stroke="#000" stroke-width="2.3"/>
<line x1="695.55" y1="748.6" x2="695.55" y2="743.5" stroke="#000" stroke-width="1.7"/>
<line x1="695.55" y1="498.5" x2="695.55" y2="503.6" stroke="#000" stroke-width="1.7"/>
<line x1="725.72" y1="748.6" x2="725.72" y2="743.5" stroke="#000" stroke-width="1.7"/>
<line x1="725.72" y1="498.5" x2="725.72" y2="503.6" stroke="#000" stroke-width="1.7"/>
<line x1="755.89" y1="748.6" x2="755.89" y2="743.5" stroke="#000" stroke-width="1.7"/>
<line x1="755.89" y1="498.5" x2="755.89" y2="503.6" stroke="#000" stroke-width="1.7"/>
<line x1="786.06" y1="748.6" x2="786.06" y2="739.6" stroke="#000" stroke-width="2.3"/>
<line x1="786.06" y1="498.5" x2="786.06" y2="507.5" stroke="#000" stroke-width="2.3"/>
<line x1="532.6" y1="726" x2="537.7" y2="726" stroke="#000" stroke-width="1.7"/>
<line x1="807.2" y1="726" x2="802.1" y2="726" stroke="#000" stroke-width="1.7"/>
<line x1="532.6" y1="683" x2="541.6" y2="683" stroke="#000" stroke-width="2.3"/>
<line x1="807.2" y1="683" x2="798.2" y2="683" stroke="#000" stroke-width="2.3"/>
<line x1="532.6" y1="640" x2="537.7" y2="640" stroke="#000" stroke-width="1.7"/>
<line x1="807.2" y1="640" x2="802.1" y2="640" stroke="#000" stroke-width="1.7"/>
<line x1="532.6" y1="597" x2="541.6" y2="597" stroke="#000" stroke-width="2.3"/>
<line x1="807.2" y1="597" x2="798.2" y2="597" stroke="#000" stroke-width="2.3"/>
<line x1="532.6" y1="554" x2="537.7" y2="554" stroke="#000" stroke-width="1.7"/>
<line x1="807.2" y1="554" x2="802.1" y2="554" stroke="#000" stroke-width="1.7"/>
<line x1="532.6" y1="511" x2="541.6" y2="511" stroke="#000" stroke-width="2.3"/>
<line x1="807.2" y1="511" x2="798.2" y2="511" stroke="#000" stroke-width="2.3"/>
<g clip-path="url(#c4)">
<polyline points="544.7,554.7 556.61,558.4 568.52,567.5 580.44,569.8 592.35,591.1 604.26,607.6 616.17,641.5 628.08,683.1 640,689.3 651.91,693.6 663.82,700.7 693.6,710.5 723.38,720 753.16,726 782.94,738.8 812.72,741" fill="none" stroke="#8000ff" stroke-width="2.7" stroke-dasharray="2.7 4.1"/>
<circle cx="544.7" cy="554.7" r="6.75" fill="#8000ff"/><circle cx="556.61" cy="558.4" r="6.75" fill="#8000ff"/><circle cx="568.52" cy="567.5" r="6.75" fill="#8000ff"/><circle cx="580.44" cy="569.8" r="6.75" fill="#8000ff"/><circle cx="592.35" cy="591.1" r="6.75" fill="#8000ff"/><circle cx="604.26" cy="607.6" r="6.75" fill="#8000ff"/><circle cx="616.17" cy="641.5" r="6.75" fill="#8000ff"/><circle cx="628.08" cy="683.1" r="6.75" fill="#8000ff"/><circle cx="640" cy="689.3" r="6.75" fill="#8000ff"/><circle cx="651.91" cy="693.6" r="6.75" fill="#8000ff"/><circle cx="663.82" cy="700.7" r="6.75" fill="#8000ff"/><circle cx="693.6" cy="710.5" r="6.75" fill="#8000ff"/><circle cx="723.38" cy="720" r="6.75" fill="#8000ff"/><circle cx="753.16" cy="726" r="6.75" fill="#8000ff"/><circle cx="782.94" cy="738.8" r="6.75" fill="#8000ff"/><circle cx="812.72" cy="741" r="6.75" fill="#8000ff"/>
<polyline points="544.7,552.1 556.61,559.8 568.52,566.9 580.44,582 592.35,598.2 604.26,614.7 616.17,653.7 628.08,654.6 640,687.9 651.91,696.4 663.82,702.1 693.6,713 723.38,721 753.16,728 782.94,734 812.72,740" fill="none" stroke="#00b5eb" stroke-width="2.7" stroke-dasharray="2.7 4.1"/>
<path d="M544.7 545.35L551.45 558.85L537.95 558.85Z" fill="#00b5eb"/><path d="M556.61 553.05L563.36 566.55L549.86 566.55Z" fill="#00b5eb"/><path d="M568.52 560.15L575.27 573.65L561.77 573.65Z" fill="#00b5eb"/><path d="M580.44 575.25L587.19 588.75L573.69 588.75Z" fill="#00b5eb"/><path d="M592.35 591.45L599.1 604.95L585.6 604.95Z" fill="#00b5eb"/><path d="M604.26 607.95L611.01 621.45L597.51 621.45Z" fill="#00b5eb"/><path d="M616.17 646.95L622.92 660.45L609.42 660.45Z" fill="#00b5eb"/><path d="M628.08 647.85L634.83 661.35L621.33 661.35Z" fill="#00b5eb"/><path d="M640 681.15L646.75 694.65L633.25 694.65Z" fill="#00b5eb"/><path d="M651.91 689.65L658.66 703.15L645.16 703.15Z" fill="#00b5eb"/><path d="M663.82 695.35L670.57 708.85L657.07 708.85Z" fill="#00b5eb"/><path d="M693.6 706.25L700.35 719.75L686.85 719.75Z" fill="#00b5eb"/><path d="M723.38 714.25L730.13 727.75L716.63 727.75Z" fill="#00b5eb"/><path d="M753.16 721.25L759.91 734.75L746.41 734.75Z" fill="#00b5eb"/><path d="M782.94 727.25L789.69 740.75L776.19 740.75Z" fill="#00b5eb"/><path d="M812.72 733.25L819.47 746.75L805.97 746.75Z" fill="#00b5eb"/>
<polyline points="544.7,566.9 556.61,627.3 568.52,649.5 580.44,663.1 592.35,678.8 604.26,683.6 616.17,690.7 628.08,695 640,698.4 651.91,703.6 663.82,707.8 693.6,715 723.38,722.5 753.16,729 782.94,735 812.72,741" fill="none" stroke="#d4dd80" stroke-width="2.7" stroke-dasharray="2.7 4.1"/>
<rect x="537.95" y="560.15" width="13.5" height="13.5" fill="#d4dd80"/><rect x="549.86" y="620.55" width="13.5" height="13.5" fill="#d4dd80"/><rect x="561.77" y="642.75" width="13.5" height="13.5" fill="#d4dd80"/><rect x="573.69" y="656.35" width="13.5" height="13.5" fill="#d4dd80"/><rect x="585.6" y="672.05" width="13.5" height="13.5" fill="#d4dd80"/><rect x="597.51" y="676.85" width="13.5" height="13.5" fill="#d4dd80"/><rect x="609.42" y="683.95" width="13.5" height="13.5" fill="#d4dd80"/><rect x="621.33" y="688.25" width="13.5" height="13.5" fill="#d4dd80"/><rect x="633.25" y="691.65" width="13.5" height="13.5" fill="#d4dd80"/><rect x="645.16" y="696.85" width="13.5" height="13.5" fill="#d4dd80"/><rect x="657.07" y="701.05" width="13.5" height="13.5" fill="#d4dd80"/><rect x="686.85" y="708.25" width="13.5" height="13.5" fill="#d4dd80"/><rect x="716.63" y="715.75" width="13.5" height="13.5" fill="#d4dd80"/><rect x="746.41" y="722.25" width="13.5" height="13.5" fill="#d4dd80"/><rect x="776.19" y="728.25" width="13.5" height="13.5" fill="#d4dd80"/><rect x="805.97" y="734.25" width="13.5" height="13.5" fill="#d4dd80"/>
<polyline points="544.7,568.3 556.61,639.5 568.52,664.6 580.44,679.4 592.35,685.9 604.26,691.6 616.17,695.9 628.08,698.4 640,701.3 651.91,703.6 663.82,706.4 693.6,714 723.38,722.4 753.16,728.3 782.94,734.8 812.72,740" fill="none" stroke="#ff4121" stroke-width="2.7" stroke-dasharray="2.7 4.1"/>
<path d="M544.7 575.05L551.45 561.55L537.95 561.55Z" fill="#ff4121"/><path d="M556.61 646.25L563.36 632.75L549.86 632.75Z" fill="#ff4121"/><path d="M568.52 671.35L575.27 657.85L561.77 657.85Z" fill="#ff4121"/><path d="M580.44 686.15L587.19 672.65L573.69 672.65Z" fill="#ff4121"/><path d="M592.35 692.65L599.1 679.15L585.6 679.15Z" fill="#ff4121"/><path d="M604.26 698.35L611.01 684.85L597.51 684.85Z" fill="#ff4121"/><path d="M616.17 702.65L622.92 689.15L609.42 689.15Z" fill="#ff4121"/><path d="M628.08 705.15L634.83 691.65L621.33 691.65Z" fill="#ff4121"/><path d="M640 708.05L646.75 694.55L633.25 694.55Z" fill="#ff4121"/><path d="M651.91 710.35L658.66 696.85L645.16 696.85Z" fill="#ff4121"/><path d="M663.82 713.15L670.57 699.65L657.07 699.65Z" fill="#ff4121"/><path d="M693.6 720.75L700.35 707.25L686.85 707.25Z" fill="#ff4121"/><path d="M723.38 729.15L730.13 715.65L716.63 715.65Z" fill="#ff4121"/><path d="M753.16 735.05L759.91 721.55L746.41 721.55Z" fill="#ff4121"/><path d="M782.94 741.55L789.69 728.05L776.19 728.05Z" fill="#ff4121"/><path d="M812.72 746.75L819.47 733.25L805.97 733.25Z" fill="#ff4121"/>
</g>
<rect x="532.6" y="498.5" width="274.6" height="250.1" fill="none" stroke="#000" stroke-width="2.3"/>
<text x="544.7" y="780.6" font-size="30.4" text-anchor="middle">0</text>
<text x="665.38" y="780.6" font-size="30.4" text-anchor="middle">40</text>
<text x="786.06" y="780.6" font-size="30.4" text-anchor="middle">80</text>
<text x="469.5" y="694.4" font-size="30.4">10<tspan font-size="21.28" dy="-11.7" dx="-1.2">0</tspan></text>
<text x="469.5" y="608.4" font-size="30.4">10<tspan font-size="21.28" dy="-11.7" dx="-1.2">2</tspan></text>
<text x="469.5" y="522.4" font-size="30.4">10<tspan font-size="21.28" dy="-11.7" dx="-1.2">4</tspan></text>
<text x="627.5" y="483.3" font-size="33">Δ<tspan x="656.5">=</tspan><tspan x="689.2">8</tspan></text>
<text x="632.6" y="477.6" font-size="33">˜</text>
<text x="538.8" y="821.5" font-size="33">force <tspan font-style="italic" dx="4.4">F</tspan><tspan dx="5.9"> [</tspan><tspan font-style="italic">k</tspan><tspan font-size="23.1" dy="5.4">B</tspan><tspan font-style="italic" dy="-5.4">T</tspan>/<tspan font-style="italic">σ</tspan><tspan font-style="italic" font-size="23.1" dy="5.4">b</tspan><tspan dy="-5.4">]</tspan></text>
<text x="446.8" y="757.1" font-size="33" transform="rotate(-90 446.8 757.1)"><tspan letter-spacing="-0.38">lifetime</tspan> <tspan font-style="italic" dx="4.5">τ</tspan><tspan dx="6.6"> [1/</tspan><tspan font-style="italic">k</tspan><tspan font-style="italic" font-size="23.1" dy="5.4">β</tspan><tspan dy="-5.4">]</tspan></text>
</g>
<g>
<clipPath id="c5"><rect x="944.5" y="498.5" width="274.6" height="250.1"/></clipPath>
<line x1="956.6" y1="748.6" x2="956.6" y2="739.6" stroke="#000" stroke-width="2.3"/>
<line x1="956.6" y1="498.5" x2="956.6" y2="507.5" stroke="#000" stroke-width="2.3"/>
<line x1="986.77" y1="748.6" x2="986.77" y2="743.5" stroke="#000" stroke-width="1.7"/>
<line x1="986.77" y1="498.5" x2="986.77" y2="503.6" stroke="#000" stroke-width="1.7"/>
<line x1="1016.94" y1="748.6" x2="1016.94" y2="743.5" stroke="#000" stroke-width="1.7"/>
<line x1="1016.94" y1="498.5" x2="1016.94" y2="503.6" stroke="#000" stroke-width="1.7"/>
<line x1="1047.11" y1="748.6" x2="1047.11" y2="743.5" stroke="#000" stroke-width="1.7"/>
<line x1="1047.11" y1="498.5" x2="1047.11" y2="503.6" stroke="#000" stroke-width="1.7"/>
<line x1="1077.28" y1="748.6" x2="1077.28" y2="739.6" stroke="#000" stroke-width="2.3"/>
<line x1="1077.28" y1="498.5" x2="1077.28" y2="507.5" stroke="#000" stroke-width="2.3"/>
<line x1="1107.45" y1="748.6" x2="1107.45" y2="743.5" stroke="#000" stroke-width="1.7"/>
<line x1="1107.45" y1="498.5" x2="1107.45" y2="503.6" stroke="#000" stroke-width="1.7"/>
<line x1="1137.62" y1="748.6" x2="1137.62" y2="743.5" stroke="#000" stroke-width="1.7"/>
<line x1="1137.62" y1="498.5" x2="1137.62" y2="503.6" stroke="#000" stroke-width="1.7"/>
<line x1="1167.79" y1="748.6" x2="1167.79" y2="743.5" stroke="#000" stroke-width="1.7"/>
<line x1="1167.79" y1="498.5" x2="1167.79" y2="503.6" stroke="#000" stroke-width="1.7"/>
<line x1="1197.96" y1="748.6" x2="1197.96" y2="739.6" stroke="#000" stroke-width="2.3"/>
<line x1="1197.96" y1="498.5" x2="1197.96" y2="507.5" stroke="#000" stroke-width="2.3"/>
<line x1="944.5" y1="726" x2="949.6" y2="726" stroke="#000" stroke-width="1.7"/>
<line x1="1219.1" y1="726" x2="1214" y2="726" stroke="#000" stroke-width="1.7"/>
<line x1="944.5" y1="683" x2="953.5" y2="683" stroke="#000" stroke-width="2.3"/>
<line x1="1219.1" y1="683" x2="1210.1" y2="683" stroke="#000" stroke-width="2.3"/>
<line x1="944.5" y1="640" x2="949.6" y2="640" stroke="#000" stroke-width="1.7"/>
<line x1="1219.1" y1="640" x2="1214" y2="640" stroke="#000" stroke-width="1.7"/>
<line x1="944.5" y1="597" x2="953.5" y2="597" stroke="#000" stroke-width="2.3"/>
<line x1="1219.1" y1="597" x2="1210.1" y2="597" stroke="#000" stroke-width="2.3"/>
<line x1="944.5" y1="554" x2="949.6" y2="554" stroke="#000" stroke-width="1.7"/>
<line x1="1219.1" y1="554" x2="1214" y2="554" stroke="#000" stroke-width="1.7"/>
<line x1="944.5" y1="511" x2="953.5" y2="511" stroke="#000" stroke-width="2.3"/>
<line x1="1219.1" y1="511" x2="1210.1" y2="511" stroke="#000" stroke-width="2.3"/>
<g clip-path="url(#c5)">
<polyline points="956.6,551.8 968.51,572.6 980.42,584.8 992.34,591.1 1004.25,613.3 1016.16,629 1028.07,657.4 1039.98,677.4 1051.9,693.6 1063.81,695.6 1075.72,703.6 1105.5,712 1135.28,720.5 1165.06,726 1194.84,733.5 1224.62,740.5" fill="none" stroke="#8000ff" stroke-width="2.7" stroke-dasharray="2.7 4.1"/>
<circle cx="956.6" cy="551.8" r="6.75" fill="#8000ff"/><circle cx="968.51" cy="572.6" r="6.75" fill="#8000ff"/><circle cx="980.42" cy="584.8" r="6.75" fill="#8000ff"/><circle cx="992.34" cy="591.1" r="6.75" fill="#8000ff"/><circle cx="1004.25" cy="613.3" r="6.75" fill="#8000ff"/><circle cx="1016.16" cy="629" r="6.75" fill="#8000ff"/><circle cx="1028.07" cy="657.4" r="6.75" fill="#8000ff"/><circle cx="1039.98" cy="677.4" r="6.75" fill="#8000ff"/><circle cx="1051.9" cy="693.6" r="6.75" fill="#8000ff"/><circle cx="1063.81" cy="695.6" r="6.75" fill="#8000ff"/><circle cx="1075.72" cy="703.6" r="6.75" fill="#8000ff"/><circle cx="1105.5" cy="712" r="6.75" fill="#8000ff"/><circle cx="1135.28" cy="720.5" r="6.75" fill="#8000ff"/><circle cx="1165.06" cy="726" r="6.75" fill="#8000ff"/><circle cx="1194.84" cy="733.5" r="6.75" fill="#8000ff"/><circle cx="1224.62" cy="740.5" r="6.75" fill="#8000ff"/>
<polyline points="956.6,552.7 968.51,569.2 980.42,585.4 992.34,598.2 1004.25,613.9 1016.16,638.1 1028.07,670.8 1039.98,679.4 1051.9,693 1063.81,697 1075.72,703.6 1105.5,712.5 1135.28,720 1165.06,727 1194.84,734 1224.62,741" fill="none" stroke="#00b5eb" stroke-width="2.7" stroke-dasharray="2.7 4.1"/>
<path d="M956.6 545.95L963.35 559.45L949.85 559.45Z" fill="#00b5eb"/><path d="M968.51 562.45L975.26 575.95L961.76 575.95Z" fill="#00b5eb"/><path d="M980.42 578.65L987.17 592.15L973.67 592.15Z" fill="#00b5eb"/><path d="M992.34 591.45L999.09 604.95L985.59 604.95Z" fill="#00b5eb"/><path d="M1004.25 607.15L1011 620.65L997.5 620.65Z" fill="#00b5eb"/><path d="M1016.16 631.35L1022.91 644.85L1009.41 644.85Z" fill="#00b5eb"/><path d="M1028.07 664.05L1034.82 677.55L1021.32 677.55Z" fill="#00b5eb"/><path d="M1039.98 672.65L1046.73 686.15L1033.23 686.15Z" fill="#00b5eb"/><path d="M1051.9 686.25L1058.65 699.75L1045.15 699.75Z" fill="#00b5eb"/><path d="M1063.81 690.25L1070.56 703.75L1057.06 703.75Z" fill="#00b5eb"/><path d="M1075.72 696.85L1082.47 710.35L1068.97 710.35Z" fill="#00b5eb"/><path d="M1105.5 705.75L1112.25 719.25L1098.75 719.25Z" fill="#00b5eb"/><path d="M1135.28 713.25L1142.03 726.75L1128.53 726.75Z" fill="#00b5eb"/><path d="M1165.06 720.25L1171.81 733.75L1158.31 733.75Z" fill="#00b5eb"/><path d="M1194.84 727.25L1201.59 740.75L1188.09 740.75Z" fill="#00b5eb"/><path d="M1224.62 734.25L1231.37 747.75L1217.87 747.75Z" fill="#00b5eb"/>
<polyline points="956.6,562.6 968.51,628.7 980.42,645.2 992.34,664.6 1004.25,679.4 1016.16,687.3 1028.07,693.6 1039.98,698.4 1051.9,702.1 1063.81,705 1075.72,708.7 1105.5,716 1135.28,723.5 1165.06,730 1194.84,736.4 1224.62,741.5" fill="none" stroke="#d4dd80" stroke-width="2.7" stroke-dasharray="2.7 4.1"/>
<rect x="949.85" y="555.85" width="13.5" height="13.5" fill="#d4dd80"/><rect x="961.76" y="621.95" width="13.5" height="13.5" fill="#d4dd80"/><rect x="973.67" y="638.45" width="13.5" height="13.5" fill="#d4dd80"/><rect x="985.59" y="657.85" width="13.5" height="13.5" fill="#d4dd80"/><rect x="997.5" y="672.65" width="13.5" height="13.5" fill="#d4dd80"/><rect x="1009.41" y="680.55" width="13.5" height="13.5" fill="#d4dd80"/><rect x="1021.32" y="686.85" width="13.5" height="13.5" fill="#d4dd80"/><rect x="1033.23" y="691.65" width="13.5" height="13.5" fill="#d4dd80"/><rect x="1045.15" y="695.35" width="13.5" height="13.5" fill="#d4dd80"/><rect x="1057.06" y="698.25" width="13.5" height="13.5" fill="#d4dd80"/><rect x="1068.97" y="701.95" width="13.5" height="13.5" fill="#d4dd80"/><rect x="1098.75" y="709.25" width="13.5" height="13.5" fill="#d4dd80"/><rect x="1128.53" y="716.75" width="13.5" height="13.5" fill="#d4dd80"/><rect x="1158.31" y="723.25" width="13.5" height="13.5" fill="#d4dd80"/><rect x="1188.09" y="729.65" width="13.5" height="13.5" fill="#d4dd80"/><rect x="1217.87" y="734.75" width="13.5" height="13.5" fill="#d4dd80"/>
<polyline points="956.6,564.1 968.51,640.9 980.42,662.3 992.34,677.9 1004.25,685.9 1016.16,690.7 1028.07,695 1039.98,698.4 1051.9,701.3 1063.81,703.6 1075.72,705.8 1105.5,714.3 1135.28,724 1165.06,729 1194.84,736.5 1224.62,741.5" fill="none" stroke="#ff4121" stroke-width="2.7" stroke-dasharray="2.7 4.1"/>
<path d="M956.6 570.85L963.35 557.35L949.85 557.35Z" fill="#ff4121"/><path d="M968.51 647.65L975.26 634.15L961.76 634.15Z" fill="#ff4121"/><path d="M980.42 669.05L987.17 655.55L973.67 655.55Z" fill="#ff4121"/><path d="M992.34 684.65L999.09 671.15L985.59 671.15Z" fill="#ff4121"/><path d="M1004.25 692.65L1011 679.15L997.5 679.15Z" fill="#ff4121"/><path d="M1016.16 697.45L1022.91 683.95L1009.41 683.95Z" fill="#ff4121"/><path d="M1028.07 701.75L1034.82 688.25L1021.32 688.25Z" fill="#ff4121"/><path d="M1039.98 705.15L1046.73 691.65L1033.23 691.65Z" fill="#ff4121"/><path d="M1051.9 708.05L1058.65 694.55L1045.15 694.55Z" fill="#ff4121"/><path d="M1063.81 710.35L1070.56 696.85L1057.06 696.85Z" fill="#ff4121"/><path d="M1075.72 712.55L1082.47 699.05L1068.97 699.05Z" fill="#ff4121"/><path d="M1105.5 721.05L1112.25 707.55L1098.75 707.55Z" fill="#ff4121"/><path d="M1135.28 730.75L1142.03 717.25L1128.53 717.25Z" fill="#ff4121"/><path d="M1165.06 735.75L1171.81 722.25L1158.31 722.25Z" fill="#ff4121"/><path d="M1194.84 743.25L1201.59 729.75L1188.09 729.75Z" fill="#ff4121"/><path d="M1224.62 748.25L1231.37 734.75L1217.87 734.75Z" fill="#ff4121"/>
</g>
<rect x="944.5" y="498.5" width="274.6" height="250.1" fill="none" stroke="#000" stroke-width="2.3"/>
<text x="956.6" y="780.6" font-size="30.4" text-anchor="middle">0</text>
<text x="1077.28" y="780.6" font-size="30.4" text-anchor="middle">40</text>
<text x="1197.96" y="780.6" font-size="30.4" text-anchor="middle">80</text>
<text x="881.4" y="694.4" font-size="30.4">10<tspan font-size="21.28" dy="-11.7" dx="-1.2">0</tspan></text>
<text x="881.4" y="608.4" font-size="30.4">10<tspan font-size="21.28" dy="-11.7" dx="-1.2">2</tspan></text>
<text x="881.4" y="522.4" font-size="30.4">10<tspan font-size="21.28" dy="-11.7" dx="-1.2">4</tspan></text>
<text x="1028.9" y="483.3" font-size="33">Δ<tspan x="1057.9">=</tspan><tspan x="1090.6">10</tspan></text>
<text x="1034" y="477.6" font-size="33">˜</text>
<text x="950.7" y="821.5" font-size="33">force <tspan font-style="italic" dx="4.4">F</tspan><tspan dx="5.9"> [</tspan><tspan font-style="italic">k</tspan><tspan font-size="23.1" dy="5.4">B</tspan><tspan font-style="italic" dy="-5.4">T</tspan>/<tspan font-style="italic">σ</tspan><tspan font-style="italic" font-size="23.1" dy="5.4">b</tspan><tspan dy="-5.4">]</tspan></text>
<text x="858.7" y="757.1" font-size="33" transform="rotate(-90 858.7 757.1)"><tspan letter-spacing="-0.38">lifetime</tspan> <tspan font-style="italic" dx="4.5">τ</tspan><tspan dx="6.6"> [1/</tspan><tspan font-style="italic">k</tspan><tspan font-style="italic" font-size="23.1" dy="5.4">β</tspan><tspan dy="-5.4">]</tspan></text>
</g>
<g>
<clipPath id="cw"><path d="M1329.6 576.4L1807.9 576.4A478.3 478.3 0 0 0 1329.6 98.1Z"/></clipPath>
<g clip-path="url(#cw)">
<rect x="1327.6" y="96.1" width="482.3" height="482.3" fill="#471164"/>
<polygon points="1326.7,578.5 1682,578.5 1689.7,510.5 1660.4,447.9 1629.1,404.9 1613.5,375.5 1586.1,364.9 1554.7,350.8 1539.1,325.8 1488.2,310.9 1429.5,300 1374.7,314.8 1326.7,303.9" fill="#472f7d" stroke="#472f7d" stroke-width="0.6"/>
<polygon points="1326.7,578.5 1595.8,578.5 1591.9,528.1 1621.3,469.4 1557,444.5 1548.1,423.7 1538.6,422 1522,419.6 1504.2,429.1 1482.8,422.5 1465,413.6 1435.4,411.9 1419.9,420.2 1382,427.3 1355.9,438 1350.5,454 1326.7,461.1" fill="#3e4c8a" stroke="#3e4c8a" stroke-width="0.6"/>
<polygon points="1326.7,578.5 1587.1,578.5 1581.9,537.5 1580.7,483.7 1554,466.5 1539.8,454.6 1539.8,428.5 1526.7,426.7 1514.8,430.9 1500.6,436.8 1479.2,449.8 1459.1,443.3 1443.7,440.3 1425.9,446.3 1402.1,455.8 1382,466.5 1364.2,477.1 1348.7,489 1342.8,494.9 1326.7,497.9" fill="#32648e" stroke="#32648e" stroke-width="0.6"/>
<polygon points="1326.7,578.5 1571.8,578.5 1568.8,525.6 1567.6,490 1548.1,472.4 1531.5,458.1 1530.9,435.4 1516,438.6 1500.6,445.1 1483.4,454.6 1450.8,470 1435.4,468.2 1424.7,463.5 1418.7,464.1 1408.1,468.8 1391.5,478.3 1374.8,490.2 1361.8,500 1356.3,507.9 1344.6,515.7 1338.1,524.9 1326.7,528.8" fill="#297a8e" stroke="#297a8e" stroke-width="0.6"/>
<polygon points="1326.7,578.5 1550.4,578.5 1552.8,537.5 1549.8,501.9 1548.1,493.7 1520.8,464.7 1511.3,448.9 1486.4,461.7 1465,469.4 1444.7,479.5 1435,481.8 1425.9,480.7 1408.5,482.5 1398.1,487 1386.3,494.9 1370.7,505.3 1357.6,517 1345.9,527.5 1338.1,537.9 1326.7,548.4" fill="#21918c" stroke="#21918c" stroke-width="0.6"/>
<polygon points="1326.7,578.5 1533.2,578.5 1535,539.8 1519,526.8 1512.5,510.2 1511.3,490 1510.7,471.8 1484,468.2 1465,474.2 1433.3,487 1424.2,489.6 1409.8,492.3 1398.1,497.5 1387.6,504 1374.6,511.8 1361.5,522.3 1348.5,535.3 1338.1,547.1 1326.7,558.8" fill="#21a685" stroke="#21a685" stroke-width="0.6"/>
<polygon points="1326.7,578.5 1507.7,578.5 1503.6,543.4 1500.6,514.9 1490.5,499.5 1480.4,490.2 1470.9,477.1 1454.3,485.4 1408.5,509.2 1398.1,514.4 1387.6,518.3 1381.1,515.1 1370.7,526.2 1362.8,535.3 1351.1,543.1 1340.7,553.6 1326.7,565.3" fill="#3bbb75" stroke="#3bbb75" stroke-width="0.6"/>
<polygon points="1326.7,578.5 1487,578.5 1479.2,549.3 1482.2,521.4 1465,506.6 1459,502.5 1444.8,495.4 1427,502.5 1381.7,528.9 1369.7,535.5 1364.1,535.3 1355,547.1 1344.6,558.8 1326.7,570.5" fill="#69cd5b" stroke="#69cd5b" stroke-width="0.6"/>
<polygon points="1326.7,578.5 1449.6,578.5 1446,555.9 1438.9,539.3 1429.4,528.6 1422.3,522.1 1422.9,511.4 1357.7,552.5 1351.1,554.5 1338.1,567 1326.7,578.5" fill="#a5db36" stroke="#a5db36" stroke-width="0.6"/>
<polygon points="1357.6,578.5 1356.3,564 1364.1,554 1377.2,542 1384.3,536.3 1396.8,537.7 1395.5,551 1403.3,564 1404.9,578.5" fill="#e2e418"/>
<line x1="1329.6" y1="576.4" x2="1696" y2="268.95" stroke="#1a1a1a" stroke-width="6" stroke-dasharray="23 10"/>
</g>
<line x1="1374.75" y1="576.4" x2="1374.75" y2="571.3" stroke="#000" stroke-width="1.7"/>
<line x1="1329.6" y1="531.25" x2="1334.7" y2="531.25" stroke="#000" stroke-width="1.7"/>
<line x1="1419.9" y1="576.4" x2="1419.9" y2="571.3" stroke="#000" stroke-width="1.7"/>
<line x1="1329.6" y1="486.1" x2="1334.7" y2="486.1" stroke="#000" stroke-width="1.7"/>
<line x1="1465.05" y1="576.4" x2="1465.05" y2="571.3" stroke="#000" stroke-width="1.7"/>
<line x1="1329.6" y1="440.95" x2="1334.7" y2="440.95" stroke="#000" stroke-width="1.7"/>
<line x1="1510.2" y1="576.4" x2="1510.2" y2="571.3" stroke="#000" stroke-width="1.7"/>
<line x1="1329.6" y1="395.8" x2="1334.7" y2="395.8" stroke="#000" stroke-width="1.7"/>
<line x1="1555.35" y1="576.4" x2="1555.35" y2="567.4" stroke="#000" stroke-width="2.3"/>
<line x1="1329.6" y1="350.65" x2="1338.6" y2="350.65" stroke="#000" stroke-width="2.3"/>
<line x1="1600.5" y1="576.4" x2="1600.5" y2="571.3" stroke="#000" stroke-width="1.7"/>
<line x1="1329.6" y1="305.5" x2="1334.7" y2="305.5" stroke="#000" stroke-width="1.7"/>
<line x1="1645.65" y1="576.4" x2="1645.65" y2="571.3" stroke="#000" stroke-width="1.7"/>
<line x1="1329.6" y1="260.35" x2="1334.7" y2="260.35" stroke="#000" stroke-width="1.7"/>
<line x1="1690.8" y1="576.4" x2="1690.8" y2="571.3" stroke="#000" stroke-width="1.7"/>
<line x1="1329.6" y1="215.2" x2="1334.7" y2="215.2" stroke="#000" stroke-width="1.7"/>
<line x1="1735.95" y1="576.4" x2="1735.95" y2="571.3" stroke="#000" stroke-width="1.7"/>
<line x1="1329.6" y1="170.05" x2="1334.7" y2="170.05" stroke="#000" stroke-width="1.7"/>
<line x1="1781.1" y1="576.4" x2="1781.1" y2="567.4" stroke="#000" stroke-width="2.3"/>
<line x1="1329.6" y1="124.9" x2="1338.6" y2="124.9" stroke="#000" stroke-width="2.3"/>
<line x1="1800.63" y1="493.34" x2="1797.09" y2="493.97" stroke="#000" stroke-width="1.5"/>
<line x1="1779.05" y1="412.81" x2="1775.67" y2="414.04" stroke="#000" stroke-width="1.5"/>
<line x1="1743.82" y1="337.25" x2="1736.03" y2="341.75" stroke="#000" stroke-width="2.3"/>
<line x1="1696" y1="268.95" x2="1693.24" y2="271.27" stroke="#000" stroke-width="1.5"/>
<line x1="1637.05" y1="210" x2="1634.73" y2="212.76" stroke="#000" stroke-width="1.5"/>
<line x1="1568.75" y1="162.18" x2="1564.25" y2="169.97" stroke="#000" stroke-width="2.3"/>
<line x1="1493.19" y1="126.95" x2="1491.96" y2="130.33" stroke="#000" stroke-width="1.5"/>
<line x1="1412.66" y1="105.37" x2="1412.03" y2="108.91" stroke="#000" stroke-width="1.5"/>
<path d="M1329.6 98.1L1329.6 576.4L1807.9 576.4A478.3 478.3 0 0 0 1329.6 98.1" fill="none" stroke="#000" stroke-width="2.3" stroke-linejoin="miter"/>
<text x="1329.6" y="608.3" font-size="30" text-anchor="middle">0</text>
<text x="1555.35" y="608.3" font-size="30" text-anchor="middle">25</text>
<text x="1781.1" y="608.3" font-size="30" text-anchor="middle">50</text>
<text x="1302.3" y="80.6" font-size="30">90<tspan dx="1.2">°</tspan></text>
<text x="1554.2" y="147.2" font-size="30">60<tspan dx="1.2">°</tspan></text>
<text x="1739.6" y="332.3" font-size="30">30<tspan dx="1.2">°</tspan></text>
<text x="1817.5" y="584.6" font-size="30">0<tspan dx="1.2">°</tspan></text>
<text x="1687.2" y="167.8" font-size="30">angle <tspan font-style="italic">θ</tspan></text>
<text x="1448.9" y="645.8" font-size="30">force <tspan font-style="italic" dx="1.3">F</tspan><tspan dx="8.8"> [</tspan><tspan font-style="italic">k</tspan><tspan font-size="21" dy="4.91">B</tspan><tspan font-style="italic" dy="-4.91">T</tspan>/<tspan font-style="italic">σ</tspan>]</text>
</g>
<g>
<rect x="1318.4" y="700.8" width="500.2" height="48.2" fill="#471164"/>
<rect x="1363.87" y="700.8" width="454.73" height="48.2" fill="#472f7d"/>
<rect x="1409.35" y="700.8" width="409.25" height="48.2" fill="#3e4c8a"/>
<rect x="1454.82" y="700.8" width="363.78" height="48.2" fill="#32648e"/>
<rect x="1500.29" y="700.8" width="318.31" height="48.2" fill="#297a8e"/>
<rect x="1545.76" y="700.8" width="272.84" height="48.2" fill="#21918c"/>
<rect x="1591.24" y="700.8" width="227.36" height="48.2" fill="#21a685"/>
<rect x="1636.71" y="700.8" width="181.89" height="48.2" fill="#3bbb75"/>
<rect x="1682.18" y="700.8" width="136.42" height="48.2" fill="#69cd5b"/>
<rect x="1727.65" y="700.8" width="90.95" height="48.2" fill="#a5db36"/>
<rect x="1773.13" y="700.8" width="45.47" height="48.2" fill="#e2e418"/>
<line x1="1409.35" y1="749" x2="1409.35" y2="758" stroke="#000" stroke-width="2.3"/>
<text x="1409.35" y="788.5" font-size="30" text-anchor="middle">0</text>
<line x1="1545.76" y1="749" x2="1545.76" y2="758" stroke="#000" stroke-width="2.3"/>
<text x="1545.76" y="788.5" font-size="30" text-anchor="middle">3</text>
<line x1="1682.18" y1="749" x2="1682.18" y2="758" stroke="#000" stroke-width="2.3"/>
<text x="1682.18" y="788.5" font-size="30" text-anchor="middle">6</text>
<line x1="1818.6" y1="749" x2="1818.6" y2="758" stroke="#000" stroke-width="2.3"/>
<text x="1818.6" y="788.5" font-size="30" text-anchor="middle">9</text>
<rect x="1318.4" y="700.8" width="500.2" height="48.2" fill="none" stroke="#000" stroke-width="2.3"/>
<text x="1569" y="828.6" font-size="33" text-anchor="middle">ln(<tspan font-style="italic">k</tspan><tspan font-style="italic" font-size="23.1" dy="5.4">β</tspan><tspan font-style="italic" dy="-5.4">τ</tspan>)</text>
</g>
<text x="51.5" y="36.2" font-size="36" font-weight="bold">a</text>
<text x="1257" y="26.6" font-size="36" font-weight="bold">b</text>
</svg></body></html>
